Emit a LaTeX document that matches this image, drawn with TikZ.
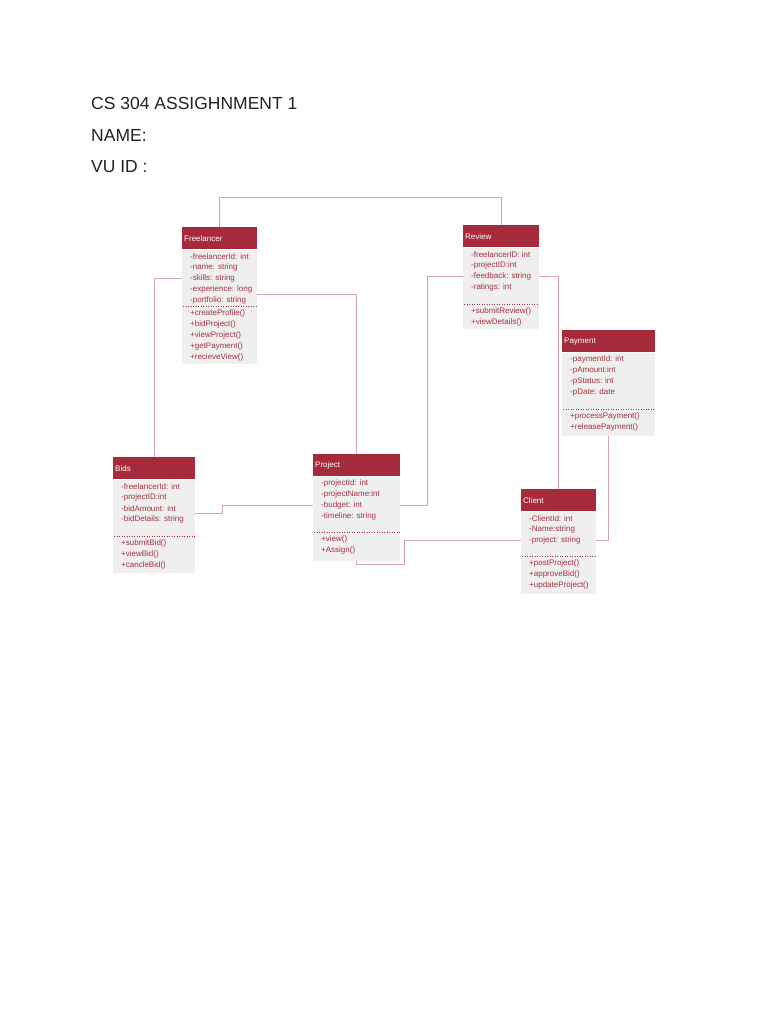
\documentclass[tikz,border=0pt]{standalone}
\usepackage{fontspec}
\setmainfont{Liberation Sans}
\usepackage{xcolor}
\usepackage{tikz}
\usetikzlibrary{calc}
\definecolor{hdrred}{HTML}{A52A3C}
\definecolor{bodygray}{HTML}{EFEFEF}
\definecolor{memred}{HTML}{A5303F}
\definecolor{linkpink}{HTML}{D7A3AD}
\definecolor{ink}{HTML}{222222}
\tikzset{
  hdr/.style={fill=hdrred, draw=none, minimum height=22pt, inner sep=0pt},
  boxbody/.style={fill=bodygray, draw=none, inner sep=0pt},
  ttl/.style={text=white, font=\fontsize{8}{9}\selectfont, inner sep=0pt, anchor=west},
  member/.style={text=memred, font=\fontsize{8}{9}\selectfont, inner sep=0pt, anchor=west},
  sepline/.style={draw=memred, dotted, line width=0.5pt},
  link/.style={draw=linkpink, line width=0.6pt},
  heading/.style={text=ink, font=\fontsize{17.5}{20}\selectfont, anchor=base west, inner sep=0pt}
}
% one class: name, top left, width, title, body height, attributes, separator, methods
\newcommand{\umlclass}[8]{%
  \node[hdr, minimum width=#3pt, anchor=north west] (#1) at #2 {};
  \node[ttl] (#1-t) at ($(#1.west)+(2,0)$) {#4};
  \node[boxbody, minimum width=#3pt, minimum height=#5pt, anchor=north west] (#1-b) at (#1.south west) {};
  \foreach \mem [count=\i] in {#6}
    \node[member] (#1-a\i) at ($(#1-b.north west)+(8,{7+11*(\i-1)})$) {\mem};
  \draw[sepline] ($(#1-b.north west)+(1,#7)$) -- ($(#1-b.north east)+(-1,#7)$);
  \foreach \mem [count=\i] in {#8}
    \node[member] (#1-m\i) at ($(#1-b.north west)+(8,{#7+7+11*(\i-1)})$) {\mem};
}

\begin{document}
\begin{tikzpicture}[x=1pt, y=-1pt]
  \useasboundingbox[fill=white] (0,0) rectangle (768,1024);

  \node[heading] (title) at (91,110) {CS 304 ASSIGHNMENT 1};
  \node[heading] (name) at (91,142) {NAME:};
  \node[heading] (vuid) at (91,173) {VU ID :};

  \umlclass{free}{(182,227)}{75}{Freelancer}{114}
    {-freelancerId: int,-name: string,-skills: string,-experience: long,-portfolio: string}{57}
    {+createProfile(),+bidProject(),+viewProject(),+getPayment(),+recieveView()}
  \umlclass{rev}{(463,225)}{76}{Review}{81}
    {-freelancerID: int,-projectID:int,-feedback: string,-ratings: int}{57}
    {+submitReview(),+viewDetails()}
  \umlclass{pay}{(562,330)}{93}{Payment}{83}
    {-paymentId: int,-pAmount:int,-pStatus: int,-pDate: date}{57}
    {+processPayment(),+releasePayment()}
  \umlclass{bids}{(113,457)}{82}{Bids}{93}
    {-freelancerId: int,-projectID:int,-bidAmount: int,-bidDetails: string}{57}
    {+submitBid(),+viewBid(),+cancleBid()}
  \umlclass{proj}{(313,454)}{87}{Project}{84}
    {-projectId: int,-projectName:int,-budget: int,-timeline: string}{56}
    {+view(),+Assign()}
  \umlclass{cli}{(521,489)}{75}{Client}{82}
    {-ClientId: int,-Name:string,-project: string}{45}
    {+postProject(),+approveBid(),+updateProject()}

  % connectors
  \draw[link] (free.north) -- ++(0,-30) -| (rev.north);
  \draw[link] (free-a3.west -| free-b.west) -| (bids.north);
  \draw[link] ($(free-a4.west -| free-b.east)+(0,5)$) -| (proj.north);
  \draw[link] (rev-a3.west -| rev-b.west) -- ++(-36,0) |- (proj-a3.west -| proj-b.east);
  \draw[link] (rev-a3.west -| rev-b.east) -| (cli.north);
  \draw[link] (pay-b.south) |- (cli-a3.west -| cli-b.east);
  \draw[link] ($(bids-a3.west -| bids-b.east)+(0,5)$) -- ++(27,0) |- (proj-a3.west -| proj-b.west);
  \draw[link] (proj-b.south) -- ++(0,3) -- ++(48,0) |- (cli-a3.west -| cli-b.west);
\end{tikzpicture}
\end{document}
